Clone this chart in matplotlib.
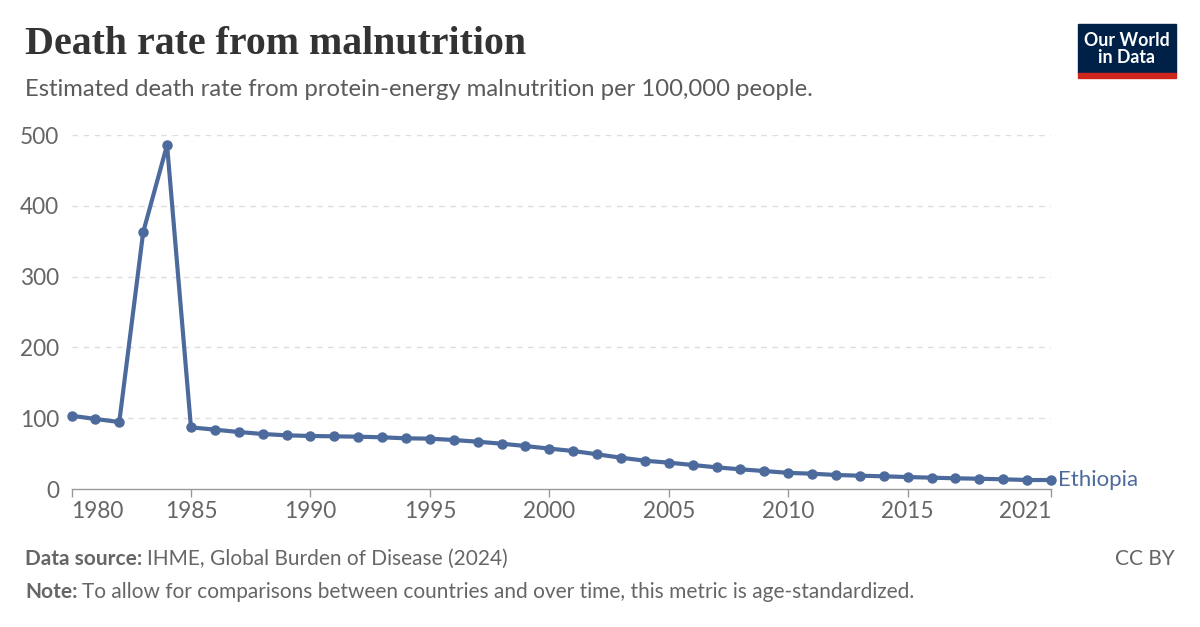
"""Death rate from malnutrition, Ethiopia (OWID style line chart)."""
import matplotlib
matplotlib.use("Agg")
import matplotlib.pyplot as plt
from matplotlib.patches import Rectangle

years = list(range(1980, 2022))
ethiopia = [
    103.5, 98.9, 94.6, 362.6, 485.9, 87.1, 83.8, 80.5, 77.7, 75.8,
    74.9, 74.4, 73.9, 73.0, 71.6, 71.1, 69.2, 66.8, 64.0, 60.7,
    57.0, 53.7, 49.0, 44.2, 40.0, 37.2, 33.9, 30.6, 27.8, 25.4,
    22.8, 21.6, 19.8, 18.8, 17.9, 16.9, 16.0, 15.1, 14.5, 13.7,
    12.7, 12.7,
]
y_ticks = [0, 100, 200, 300, 400, 500]
x_ticks = [1980, 1985, 1990, 1995, 2000, 2005, 2010, 2015, 2021]

LINE = "#4c6a9c"
GREY = "#666666"
W, H = 1200, 627

plt.rcParams["font.family"] = ["Lato", "DejaVu Sans"]

fig = plt.figure(figsize=(W / 100, H / 100), dpi=100)
ax = fig.add_axes([71.5 / W, 1 - 489 / H, (1051 - 71.5) / W, (489 - 135) / H])

ax.plot(years, ethiopia, color=LINE, lw=3.0, marker="o", ms=6.5,
        clip_on=False, zorder=3)
ax.set_xlim(1980, 2021)
ax.set_ylim(0, 500)

ax.set_yticks(y_ticks)
ax.set_yticklabels([str(v) for v in y_ticks])
ax.set_xticks(x_ticks)
ax.set_xticklabels([str(v) for v in x_ticks])
xl = ax.get_xticklabels()
xl[0].set_horizontalalignment("left")
xl[-1].set_horizontalalignment("right")

ax.tick_params(axis="y", length=0, pad=9, labelsize=16.3, labelcolor=GREY)
ax.tick_params(axis="x", length=6, width=1, color="#999999", pad=3,
               labelsize=16.3, labelcolor=GREY)
for v in y_ticks[1:]:
    ax.axhline(v, color="#dddddd", lw=1, ls=(0, (4, 4)), zorder=1)
for s in ("top", "right", "left"):
    ax.spines[s].set_visible(False)
ax.spines["bottom"].set_color("#999999")
ax.spines["bottom"].set_linewidth(1)

ax.annotate("Ethiopia", (2021, ethiopia[-1]), xytext=(5, 0),
            textcoords="offset points", color=LINE, fontsize=16,
            va="center", ha="left", annotation_clip=False)

# header
fig.text(25 / W, 1 - 45 / H, "Death rate from malnutrition",
         family=["Liberation Serif", "DejaVu Serif"], weight="bold",
         fontsize=28.7, color="#333333", va="center")
fig.text(25 / W, 1 - 89 / H,
         "Estimated death rate from protein-energy malnutrition per 100,000 people.",
         fontsize=17.2, color="#5b5b5b", va="center")

# logo
fig.patches.append(Rectangle((1078 / W, 1 - 73 / H), 98 / W, 49 / H,
                             transform=fig.transFigure, color="#002147"))
fig.patches.append(Rectangle((1078 / W, 1 - 78 / H), 98 / W, 5 / H,
                             transform=fig.transFigure, color="#ce261e"))
fig.text(1127 / W, 1 - 49 / H, "Our World\nin Data", color="white",
         fontsize=12.8, weight="bold", ha="center", va="center",
         linespacing=1.0)

# footer
fig.text(25 / W, 1 - 559 / H, "Data source:", fontsize=15, weight="bold",
         color=GREY, va="center")
fig.text(147 / W, 1 - 559 / H, "IHME, Global Burden of Disease (2024)",
         fontsize=15, color=GREY, va="center")
fig.text(25 / W, 1 - 592 / H, "Note:", fontsize=15, weight="bold",
         color=GREY, va="center")
fig.text(82 / W, 1 - 592 / H,
         "To allow for comparisons between countries and over time, this metric is age-standardized.",
         fontsize=15, color=GREY, va="center")
fig.text(1175 / W, 1 - 559 / H, "CC BY", fontsize=15, color=GREY,
         va="center", ha="right")

fig.savefig("out.png", dpi=100)
